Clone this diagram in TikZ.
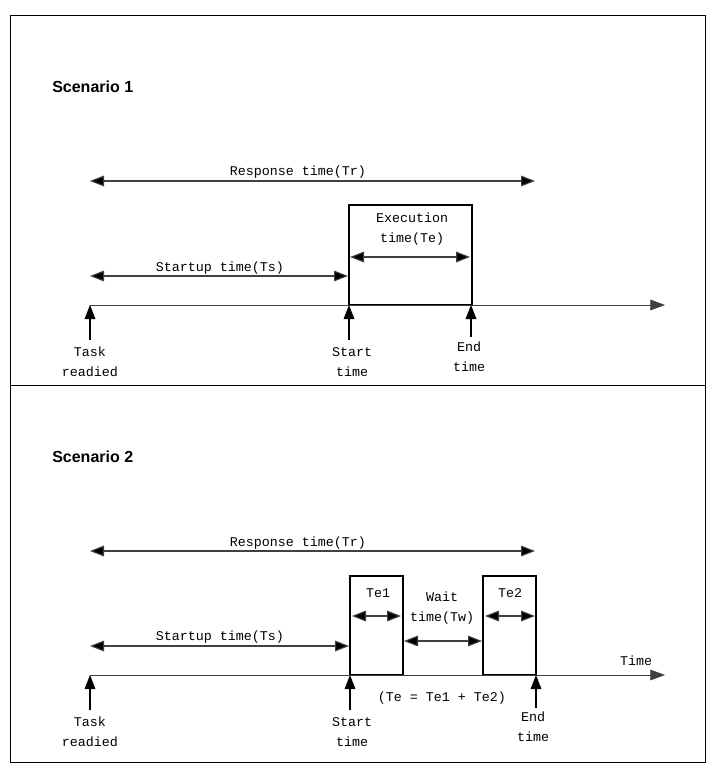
\documentclass[tikz,border=0pt]{standalone}
\usepackage{fontspec}
\setmainfont{Liberation Mono}
\newfontfamily\hd{Liberation Sans}
\usetikzlibrary{arrows.meta}
\begin{document}
\begin{tikzpicture}[x=0.75pt,y=-0.75pt,
  tip/.tip={Triangle[length=10.5pt,width=8pt,fill=black]},
  dbl/.style={{tip}-{tip},line width=0.8pt,draw=black!75},
  up/.style={-{tip},line width=0.8pt},
  axis/.style={-{Triangle[length=11pt,width=8pt]},line width=0.6pt,draw=black!75},
  box/.style={draw,line width=1.2pt},
  lbl/.style={font=\fontsize{10}{15}\selectfont,inner sep=0pt,align=center},
  hd/.style={font=\hd\bfseries\fontsize{12}{14}\selectfont,anchor=west,inner sep=0pt}]
\useasboundingbox (0,0) rectangle (712,773);
\draw[line width=0.6pt] (10,15) rectangle (705,762);
\draw[line width=0.6pt] (10,385) -- (705,385);
% Scenario 1
\node[hd] (s1) at (52,87) {Scenario 1};
\coordinate (r1a) at (90,181); \coordinate (r1b) at (535,181);
\draw[dbl] (r1a) -- (r1b);
\node[lbl] (r1l) at (298,172) {Response time(Tr)};
\node[box,minimum width=92.25pt,minimum height=75pt,inner sep=0pt] (b1) at (410.5,255) {};
\node[lbl] (e1l) at (412,229) {Execution\\time(Te)};
\coordinate (e1a) at (350,257); \coordinate (e1b) at (470,257);
\draw[dbl] (e1a) -- (e1b);
\coordinate (st1a) at (90,276); \coordinate (st1b) at (348,276);
\draw[dbl] (st1a) -- (st1b);
\node[lbl] (st1l) at (220,268) {Startup time(Ts)};
\coordinate (t1a) at (90,305); \coordinate (t1b) at (665,305);
\draw[axis] (t1a) -- (t1b);
\coordinate (u1a) at (90,340); \coordinate (u1ae) at (90,305);
\draw[up] (u1a) -- (u1ae);
\node[lbl] (n1a) at (90,362) {Task\\readied};
\coordinate (u1b) at (349,340); \coordinate (u1be) at (349,305);
\draw[up] (u1b) -- (u1be);
\node[lbl] (n1b) at (352,362) {Start\\time};
\coordinate (u1c) at (471,337); \coordinate (u1ce) at (471,305);
\draw[up] (u1c) -- (u1ce);
\node[lbl] (n1c) at (469,357) {End\\time};
% Scenario 2
\node[hd] (s2) at (52,457) {Scenario 2};
\coordinate (r2a) at (90,551); \coordinate (r2b) at (535,551);
\draw[dbl] (r2a) -- (r2b);
\node[lbl] (r2l) at (298,543) {Response time(Tr)};
\node[box,minimum width=39.75pt,minimum height=74.25pt,inner sep=0pt] (b2) at (376.5,625.5) {};
\node[box,minimum width=39.75pt,minimum height=74.25pt,inner sep=0pt] (b3) at (509.5,625.5) {};
\node[lbl] (te1) at (378,593) {Te1};
\node[lbl] (te2) at (510,593) {Te2};
\node[lbl] (wl) at (442,608) {Wait\\time(Tw)};
\coordinate (q1a) at (352,616); \coordinate (q1b) at (401,616);
\draw[dbl] (q1a) -- (q1b);
\coordinate (q2a) at (485,616); \coordinate (q2b) at (535,616);
\draw[dbl] (q2a) -- (q2b);
\coordinate (wa) at (404,641); \coordinate (wb) at (482,641);
\draw[dbl] (wa) -- (wb);
\coordinate (st2a) at (90,646); \coordinate (st2b) at (349,646);
\draw[dbl] (st2a) -- (st2b);
\node[lbl] (st2l) at (220,637) {Startup time(Ts)};
\coordinate (t2a) at (90,675); \coordinate (t2b) at (665,675);
\draw[axis] (t2a) -- (t2b);
\node[lbl] (tl) at (636,661) {Time};
\node[lbl] (sum) at (442,698) {(Te = Te1 + Te2)};
\coordinate (u2a) at (90,710); \coordinate (u2ae) at (90,675);
\draw[up] (u2a) -- (u2ae);
\node[lbl] (n2a) at (90,732) {Task\\readied};
\coordinate (u2b) at (350,710); \coordinate (u2be) at (350,675);
\draw[up] (u2b) -- (u2be);
\node[lbl] (n2b) at (352,732) {Start\\time};
\coordinate (u2c) at (536,708); \coordinate (u2ce) at (536,675);
\draw[up] (u2c) -- (u2ce);
\node[lbl] (n2c) at (533,727) {End\\time};
\end{tikzpicture}
\end{document}
